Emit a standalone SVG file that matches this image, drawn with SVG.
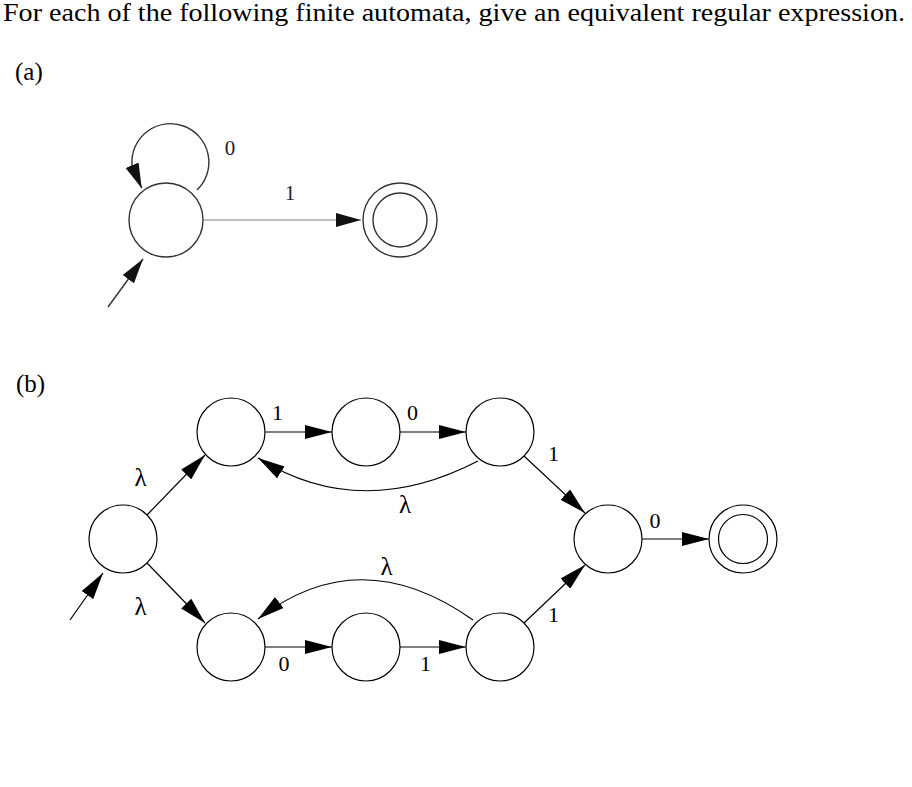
<svg xmlns="http://www.w3.org/2000/svg" width="912" height="787" viewBox="0 0 912 787">
<style>
.title{font-family:"Liberation Serif","DejaVu Serif",serif;font-size:25px;fill:#000}
.part{font-family:"Liberation Serif","DejaVu Serif",serif;font-size:25px;fill:#000}
.lbl{font-family:"Liberation Serif","Times New Roman",serif;font-size:22px;fill:#000;text-anchor:middle}
.lam{font-size:25px}
.lbla{font-family:"Liberation Serif","Times New Roman",serif;font-size:21px;fill:#222;text-anchor:middle}
.st{fill:#fff;stroke:#000;stroke-width:1.2}
.sta{fill:#fff;stroke:#333;stroke-width:1.4}
.e{fill:none;stroke:#000;stroke-width:1.2}
.ea{fill:none;stroke:#333;stroke-width:1.4}
.eg{fill:none;stroke:#aaa;stroke-width:1.6}
</style>
<defs>
<marker id="arr" markerUnits="userSpaceOnUse" viewBox="0 0 27 14" refX="27" refY="7" markerWidth="27" markerHeight="14" orient="auto">
<path d="M0,0 L27,7 L0,14 z" fill="#000"/>
</marker>
<marker id="arra" markerUnits="userSpaceOnUse" viewBox="0 0 25 14" refX="25" refY="7" markerWidth="25" markerHeight="14" orient="auto">
<path d="M0,0 L25,7 L0,14 z" fill="#111"/>
</marker>
</defs>
<rect width="912" height="787" fill="#fff"/>
<text class="title" x="3" y="21" textLength="902" lengthAdjust="spacingAndGlyphs">For each of the following finite automata, give an equivalent regular expression.</text>
<text class="part" x="15" y="80">(a)</text>
<text class="part" x="16" y="392">(b)</text>

<g id="connectors-a">
<path class="ea" d="M197,190 A38.5,38.5 0 1 0 132,165 L141.7,188.3" marker-end="url(#arra)"/>
<path class="eg" d="M204,220 L361,220" marker-end="url(#arra)"/>
<path class="ea" d="M108,307 L143,259" marker-end="url(#arra)"/>
<text class="lbla" x="230" y="155">0</text>
<text class="lbla" x="290" y="200">1</text>
</g>
<g id="a-q0"><circle class="sta" cx="166" cy="220" r="37"/></g>
<g id="a-q1"><circle class="sta" cx="400" cy="220" r="37"/><circle class="sta" cx="400" cy="220" r="27"/></g>

<g id="connectors-b">
<path class="e" d="M70,620 L103,573" marker-end="url(#arr)"/>
<path class="e" d="M147,515 L205,455" marker-end="url(#arr)"/>
<path class="e" d="M147,563 L205,623" marker-end="url(#arr)"/>
<path class="e" d="M265,432 L332,432" marker-end="url(#arr)"/>
<path class="e" d="M400,432 L466,432" marker-end="url(#arr)"/>
<path class="e" d="M524,456 L585,513" marker-end="url(#arr)"/>
<path class="e" d="M524,623 L585,565" marker-end="url(#arr)"/>
<path class="e" d="M265,647 L332,647" marker-end="url(#arr)"/>
<path class="e" d="M400,647 L466,647" marker-end="url(#arr)"/>
<path class="e" d="M642,539 L709,539" marker-end="url(#arr)"/>
<path class="e" d="M478,461 Q360,522 258,458" marker-end="url(#arr)"/>
<path class="e" d="M473,620 Q360,540 258,619" marker-end="url(#arr)"/>
<text class="lbl lam" x="140.5" y="486">λ</text>
<text class="lbl lam" x="140.5" y="615">λ</text>
<text class="lbl" x="277.5" y="420">1</text>
<text class="lbl" x="412.5" y="420">0</text>
<text class="lbl lam" x="405" y="513">λ</text>
<text class="lbl" x="553.5" y="461">1</text>
<text class="lbl lam" x="386.5" y="575">λ</text>
<text class="lbl" x="553.5" y="622">1</text>
<text class="lbl" x="284" y="671">0</text>
<text class="lbl" x="425.5" y="671">1</text>
<text class="lbl" x="655" y="528">0</text>
</g>
<g id="b-q0"><circle class="st" cx="123" cy="539" r="34"/></g>
<g id="b-q1"><circle class="st" cx="231" cy="432" r="34"/></g>
<g id="b-q2"><circle class="st" cx="366" cy="432" r="34"/></g>
<g id="b-q3"><circle class="st" cx="500" cy="432" r="34"/></g>
<g id="b-q4"><circle class="st" cx="231" cy="647" r="34"/></g>
<g id="b-q5"><circle class="st" cx="366" cy="647" r="34"/></g>
<g id="b-q7"><circle class="st" cx="500" cy="647" r="34"/></g>
<g id="b-q6"><circle class="st" cx="608" cy="539" r="34"/></g>
<g id="b-qf"><circle class="st" cx="743" cy="539" r="34"/><circle class="st" cx="743" cy="539" r="24.5"/></g>
</svg>
